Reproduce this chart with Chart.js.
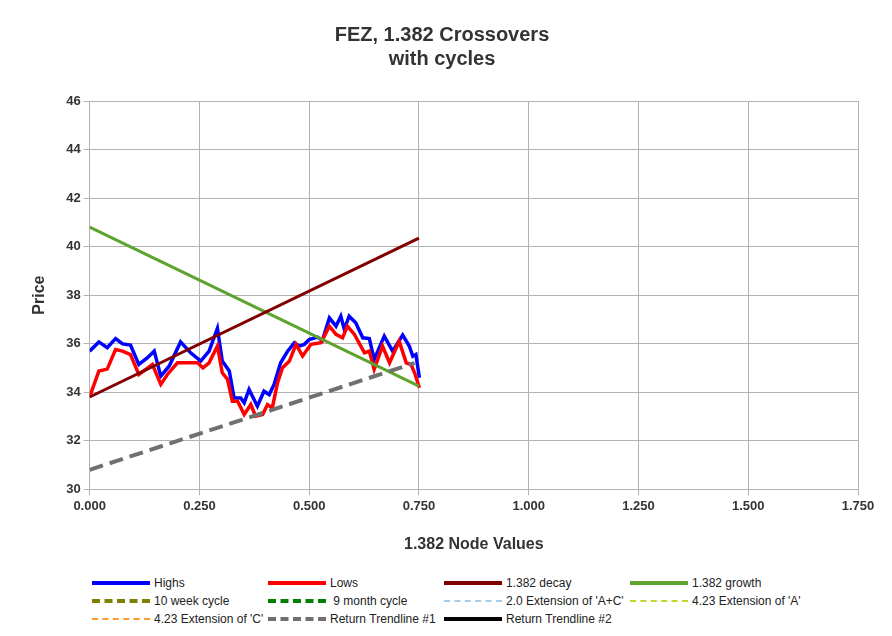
<!DOCTYPE html>
<html>
<head>
<meta charset="utf-8">
<script src="https://cdn.jsdelivr.net/npm/chart.js@4.4.0/dist/chart.umd.min.js"></script>
<style>
  body { margin: 0; background: #fff; font-family: "Liberation Sans", Arial, sans-serif; }
  #wrap { width: 892px; height: 565px; position: relative; }
  #legend { position: absolute; left: 92px; top: 575px; display: grid;
            grid-template-columns: 176px 176px 186px 200px; row-gap: 2px; font-size: 12px; color: #222; }
  .item { display: flex; align-items: center; height: 16px; white-space: nowrap; }
  .sw { width: 58px; margin-right: 4px; height: 0; }
</style>
</head>
<body>
<div id="wrap"><canvas id="myChart" width="892" height="565"></canvas></div>
<div id="legend"></div>

<script>
// Highs / Lows as [node value, price]
var highX = [0, .021, .040, .059, .075, .093, .112, .131, .147, .162, .181, .207, .230, .253, .272, .291, .302, .318, .329, .344, .352, .363, .382, .397, .409, .420, .435, .451, .466, .477, .489, .500, .519, .530, .546, .561, .572, .580, .591, .606, .622, .637, .648, .671, .690, .713, .728, .736, .743, .751];
var highY = [35.69, 36.07, 35.83, 36.21, 35.99, 35.94, 35.14, 35.41, 35.69, 34.66, 35.07, 36.07, 35.62, 35.28, 35.69, 36.63, 35.28, 34.87, 33.76, 33.76, 33.56, 34.11, 33.42, 34.04, 33.90, 34.32, 35.21, 35.69, 36.03, 35.90, 35.97, 36.17, 36.27, 36.13, 37.06, 36.72, 37.13, 36.59, 37.13, 36.86, 36.24, 36.21, 35.35, 36.31, 35.69, 36.35, 35.90, 35.48, 35.55, 34.59];
var lowX = [0, .021, .040, .059, .075, .093, .112, .143, .162, .177, .200, .219, .246, .258, .272, .291, .302, .314, .325, .337, .352, .367, .378, .394, .405, .416, .428, .439, .455, .470, .485, .504, .527, .546, .561, .576, .587, .603, .626, .637, .648, .667, .683, .705, .721, .732, .740, .751];
var lowY = [33.81, 34.87, 34.95, 35.76, 35.69, 35.55, 34.73, 35.14, 34.32, 34.73, 35.21, 35.21, 35.21, 35.00, 35.21, 35.90, 34.80, 34.53, 33.63, 33.63, 33.08, 33.49, 33.01, 33.08, 33.49, 33.35, 34.39, 35.00, 35.28, 35.97, 35.49, 35.97, 36.04, 36.72, 36.38, 36.24, 36.72, 36.38, 35.62, 35.69, 34.94, 35.90, 35.21, 36.10, 35.21, 35.14, 34.80, 34.18];
var decayX = [0, 0.75], decayY = [33.8, 40.35];
var growthX = [0, 0.75], growthY = [40.8, 34.25];
var trend1X = [0, 0.74], trend1Y = [30.8, 35.2];

var legendNames = ["Highs", "Lows", "1.382 decay", "1.382 growth", "10 week cycle", " 9 month cycle", "2.0 Extension of 'A+C'", "4.23 Extension of 'A'", "4.23 Extension of 'C'", "Return Trendline #1", "Return Trendline #2"];
var legendStyles = ["4px solid #0000ff", "4px solid #ff0000", "4px solid #800000", "4px solid #5ea32e", "4px dashed #808000", "4px dashed #008000", "2px dashed #a6cbe6", "2px dashed #c5d62b", "2px dashed #ff9a30", "4px dashed #707070", "4px solid #000"];

function pts(xs, ys) { return xs.map(function (x, i) { return { x: x, y: ys[i] }; }); }

var legendEl = document.getElementById("legend");
legendNames.forEach(function (name, i) {
  var d = document.createElement("div");
  d.className = "item";
  d.innerHTML = '<span class="sw" style="border-top:' + legendStyles[i] + '"></span>' + name.replace(/ /g, "&nbsp;");
  legendEl.appendChild(d);
});

new Chart("myChart", {
  type: "scatter",
  data: {
    datasets: [
      { data: pts(trend1X, trend1Y), borderColor: "#707070", borderWidth: 4, borderDash: [14, 7] },
      { data: pts(decayX, decayY), borderColor: "#800000", borderWidth: 3 },
      { data: pts(growthX, growthY), borderColor: "#5ea32e", borderWidth: 3 },
      { data: pts(lowX, lowY), borderColor: "#ff0000", borderWidth: 3.5 },
      { data: pts(highX, highY), borderColor: "#0000ff", borderWidth: 3.5 }
    ].map(function (d) { d.showLine = true; d.pointRadius = 0; d.fill = false; return d; })
  },
  options: {
    responsive: false,
    animation: false,
    layout: { padding: { left: 26, right: 34, top: 17, bottom: 7 } },
    plugins: {
      legend: { display: false },
      tooltip: { enabled: false },
      title: { display: true, text: ["FEZ, 1.382 Crossovers", "with cycles"], color: "#333",
               font: { family: "Liberation Sans", size: 20, weight: "bold", lineHeight: 1.2 }, padding: { top: 6, bottom: 30 } }
    },
    scales: {
      x: { type: "linear", min: 0, max: 1.75,
           ticks: { stepSize: 0.25, color: "#333", font: { family: "Liberation Sans", size: 13, weight: "bold" },
                    callback: function (v) { return v.toFixed(3); } },
           grid: { color: "#b3b3b3", tickLength: 6 }, border: { color: "#b3b3b3" },
           title: { display: true, text: "1.382 Node Values", color: "#333", font: { family: "Liberation Sans", size: 16, weight: "bold" }, padding: { top: 18 } } },
      y: { min: 30, max: 46,
           ticks: { stepSize: 2, color: "#333", font: { family: "Liberation Sans", size: 13, weight: "bold" } },
           grid: { color: "#b3b3b3", tickLength: 6 }, border: { color: "#b3b3b3" },
           title: { display: true, text: "Price", color: "#333", font: { family: "Liberation Sans", size: 16, weight: "bold" }, padding: { bottom: 14 } } }
    }
  }
});
</script>
</body>
</html>
